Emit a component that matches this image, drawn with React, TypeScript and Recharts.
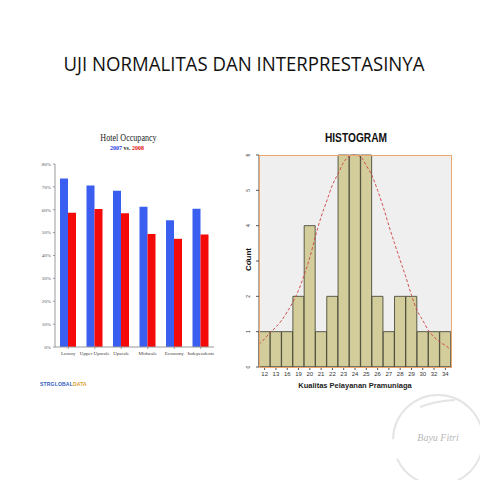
import React from "react";
import {
  BarChart,
  Bar,
  XAxis,
  YAxis,
  Line,
  ComposedChart,
  CartesianGrid,
} from "recharts";

// hotel occupancy (left chart)
const segments = ["Luxury", "Upper Upscale", "Upscale", "Midscale", "Economy", "Independents"];
const occ2007 = [73.7, 70.6, 68.3, 61.3, 55.4, 60.4];
const occ2008 = [58.7, 60.3, 58.5, 49.4, 47.3, 49.2];
const occTicks = [0, 10, 20, 30, 40, 50, 60, 70, 80];

// histogram (right chart)
const scoreBins = ["12", "13", "16", "19", "20", "21", "22", "23", "24", "25", "26", "27", "28", "29", "30", "32", "34"];
const binCounts = [1, 1, 1, 2, 4, 1, 2, 6, 6, 6, 2, 1, 2, 2, 1, 1, 1];
const countTicks = [0, 1, 2, 3, 4, 5, 6];

// dashed normal curve, read at half-bin steps across the plot
const curvePos = [0, 0.5, 1, 1.5, 2, 2.5, 3, 3.5, 4, 4.5, 5, 5.5, 6, 6.5, 7, 7.5, 8, 8.5, 9, 9.5, 10, 10.5, 11, 11.5, 12, 12.5, 13, 13.5, 14, 14.5, 15, 15.5, 16, 16.5, 17];
const curveVal = [0.64, 0.8, 0.98, 1.13, 1.32, 1.56, 1.84, 2.17, 2.6, 3.1, 3.7, 4.25, 4.7, 5.15, 5.47, 5.8, 5.96, 6.0, 5.95, 5.7, 5.42, 5.0, 4.53, 4.0, 3.5, 3.02, 2.55, 2.03, 1.6, 1.32, 1.04, 0.85, 0.71, 0.61, 0.49];

const occData = segments.map((s, i) => ({ name: s, y2007: occ2007[i], y2008: occ2008[i] }));
const histData = scoreBins.map((b, i) => ({ bin: b, count: binCounts[i] }));
const curveData = curvePos.map((p, i) => ({ p, v: curveVal[i] }));

const serif = "'Liberation Serif', 'DejaVu Serif', serif";
const sans = "'Liberation Sans', Arial, sans-serif";

function RotTick({ x, y, payload }: any) {
  return (
    <text x={x - 4} y={y} transform={`rotate(-90 ${x - 4} ${y})`} textAnchor="middle" fontSize={5} fill="#333" fontFamily={sans}>
      {payload.value}
    </text>
  );
}

export default function App() {
  return (
    <div style={{ position: "absolute", left: 0, top: 0, width: 480, height: 480, background: "#fff", overflow: "hidden" }}>
      <div
        style={{
          position: "absolute",
          top: 50,
          left: 4,
          width: 480,
          textAlign: "center",
          fontFamily: "'Open Sans', sans-serif",
          fontSize: 20,
          color: "#111",
          transform: "scaleX(0.93)",
        }}
      >
        UJI NORMALITAS DAN INTERPRESTASINYA
      </div>

      {/* left chart */}
      <div style={{ position: "absolute", left: 0, top: 133, width: 240, textAlign: "center", fontFamily: serif, color: "#222" }}>
        <div style={{ fontSize: 9.5, paddingLeft: 20, transform: "scaleX(0.85)" }}>Hotel Occupancy</div>
        <div style={{ fontSize: 6, fontWeight: "bold", paddingLeft: 14, marginTop: 2 }}>
          <span style={{ color: "#2a3adf" }}>2007</span> vs. <span style={{ color: "#e41010" }}>2008</span>
        </div>
      </div>
      <div style={{ position: "absolute", left: 0, top: 0 }}>
        <BarChart width={240} height={400} data={occData} margin={{ top: 164, right: 26, left: 25, bottom: 23 }} barCategoryGap={5} barGap={0}>
          <XAxis
            dataKey="name"
            height={30}
            interval={0}
            tick={{ fontSize: 5, fill: "#444", fontFamily: serif }}
            tickSize={2}
            stroke="#999"
          />
          <YAxis
            width={30}
            domain={[0, 80]}
            ticks={occTicks}
            tickFormatter={(v) => `${v}%`}
            tick={{ fontSize: 5, fill: "#555", fontFamily: serif }}
            tickSize={2}
            stroke="#999"
          />
          <Bar dataKey="y2007" fill="#3a5ff0" isAnimationActive={false} />
          <Bar dataKey="y2008" fill="#f50a0a" isAnimationActive={false} />
        </BarChart>
      </div>
      <div style={{ position: "absolute", left: 40, top: 381, fontFamily: sans, fontSize: 5, fontWeight: "bold", letterSpacing: 0.2 }}>
        <span style={{ color: "#3060c0" }}>STR</span>
        <span style={{ color: "#3060c0" }}>GLOBAL</span>
        <span style={{ color: "#d8a030" }}>DATA</span>
      </div>

      {/* histogram */}
      <div
        style={{
          position: "absolute",
          left: 240,
          top: 131,
          width: 232,
          textAlign: "center",
          fontFamily: sans,
          fontWeight: "bold",
          fontSize: 12,
          color: "#111",
          transform: "scaleX(0.85)",
        }}
      >
        HISTOGRAM
      </div>
      <div style={{ position: "absolute", left: 240, top: 0 }}>
        <ComposedChart width={240} height={400} data={histData} margin={{ top: 155, right: 29, left: 5, bottom: 13 }} barCategoryGap={0}>
          <CartesianGrid fill="#efefef" horizontal={false} vertical={false} />
          <XAxis dataKey="bin" height={20} interval={0} tick={{ fontSize: 6, fill: "#333", fontFamily: sans }} tickSize={3} stroke="#555" />
          <XAxis xAxisId="c" type="number" dataKey="p" domain={[0, 17]} hide />
          <YAxis width={14} domain={[0, 6]} ticks={countTicks} tick={<RotTick />} tickSize={3} stroke="#555" />
          <Bar dataKey="count" fill="#d3cd9c" stroke="#3a3a2a" strokeWidth={0.8} isAnimationActive={false} />
          <Line
            data={curveData}
            xAxisId="c"
            dataKey="v"
            type="monotone"
            stroke="#d04040"
            strokeWidth={0.9}
            strokeDasharray="3 2"
            dot={false}
            isAnimationActive={false}
          />
        </ComposedChart>
      </div>
      <div style={{ position: "absolute", left: 259, top: 155, width: 191, height: 211, border: "1px solid #eaa870", pointerEvents: "none" }} />
      <div
        style={{
          position: "absolute",
          left: 230,
          top: 255,
          width: 36,
          textAlign: "center",
          transform: "rotate(-90deg)",
          fontFamily: sans,
          fontWeight: "bold",
          fontSize: 8,
          color: "#111",
        }}
      >
        Count
      </div>
      <div style={{ position: "absolute", left: 259, top: 381, width: 192, textAlign: "center", fontFamily: sans, fontWeight: "bold", fontSize: 7.5, color: "#222" }}>
        Kualitas Pelayanan Pramuniaga
      </div>

      {/* watermark */}
      <svg style={{ position: "absolute", left: 380, top: 385 }} width={100} height={95}>
        <circle cx={58} cy={55} r={45} fill="none" stroke="#e4e4e4" strokeWidth={2} strokeDasharray="70 12 40 20 150 30" />
        <path d="M 40 22 Q 55 16 75 15" fill="none" stroke="#e4e4e4" strokeWidth={2} />
        <text x={58} y={56} textAnchor="middle" fontSize={10} fill="#b8b8b8" fontStyle="italic" fontFamily={serif}>
          Bayu Fitri
        </text>
      </svg>
    </div>
  );
}
